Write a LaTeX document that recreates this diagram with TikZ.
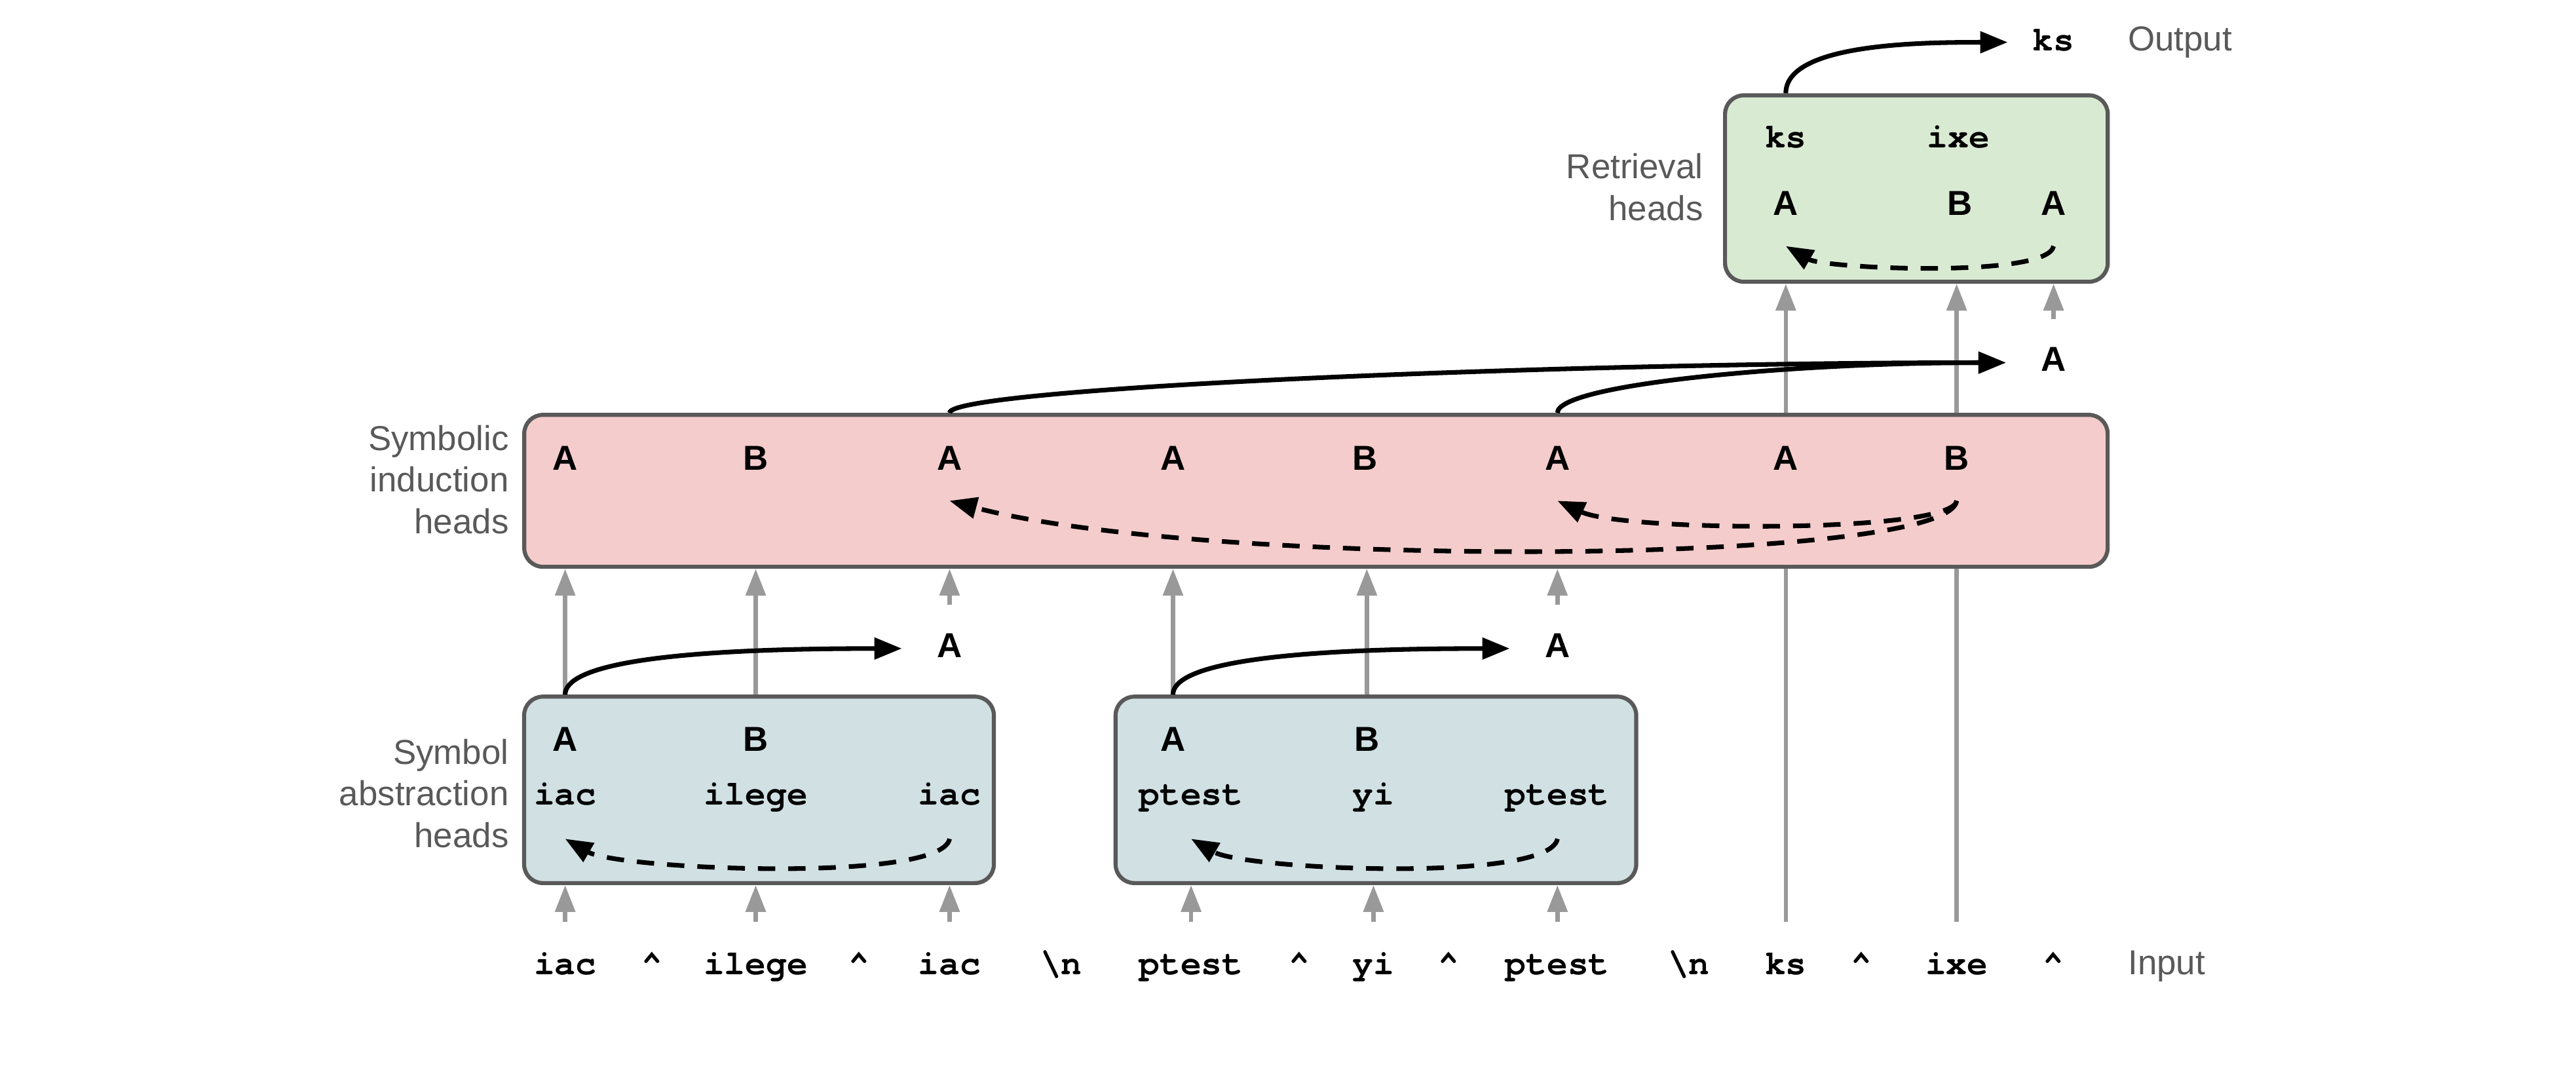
\documentclass[tikz,border=0pt]{standalone}
\usepackage{fontspec}
\setsansfont{Liberation Sans}
\setmonofont{TeX Gyre Cursor}
\usetikzlibrary{arrows.meta}

\definecolor{abscol}{HTML}{D0E0E3}
\definecolor{indcol}{HTML}{F4CCCC}
\definecolor{retcol}{HTML}{D9EAD3}
\definecolor{edgegray}{HTML}{595959}
\definecolor{feedgray}{HTML}{999999}

\tikzset{
  tok/.style = {font=\ttfamily\bfseries\fontsize{12}{14}\selectfont, inner sep=0pt, anchor=base, text height=9pt, text depth=3pt},
  sym/.style = {tok, font=\sffamily\bfseries\fontsize{12}{14}\selectfont},
  lbl/.style = {font=\sffamily\fontsize{12}{14.35}\selectfont, text=edgegray, align=right, inner sep=0pt},
  head/.style = {draw=edgegray, line width=1.4pt, rounded corners=6.5pt, inner sep=0pt},
  feed/.style = {draw=feedgray, line width=1.5pt, -{Triangle[length=9.3pt,width=6.8pt]}},
  pass/.style = {line width=1.6pt, -{Triangle[length=9.5pt,width=7.3pt]}},
  back/.style = {pass, dash pattern=on 6pt off 4.5pt},
}

\begin{document}
\begin{tikzpicture}[x=0.02cm, y=-0.02cm]
    \useasboundingbox (0,0) rectangle (1568,659);

    % head blocks
    \node[head, fill=abscol, minimum width=5.72cm, minimum height=2.27cm] (sab1) at (462,480.75) {};
    \node[head, fill=abscol, minimum width=6.34cm, minimum height=2.27cm] (sab2) at (837.5,480.75) {};
    \node[head, fill=indcol, minimum width=19.28cm, minimum height=1.85cm] (sind) at (801,298.75) {};
    \node[head, fill=retcol, minimum width=4.66cm, minimum height=2.27cm] (sret) at (1166.5,114.75) {};

    \node[lbl, anchor=north east] (labs) at (310,449.6) {Symbol\\abstraction\\heads};
    \node[lbl, anchor=north east] (lind) at (310,258.6) {Symbolic\\induction\\heads};
    \node[lbl, anchor=north east] (lret) at (1037,93.2) {Retrieval\\heads};
    \node[lbl, anchor=base west] (lout) at (1295,31) {Output};
    \node[lbl, anchor=base west] (lin) at (1295,593) {Input};

    % input sequence
    \foreach \x/\t [count=\n] in {344/iac, 397/\textasciicircum, 460/ilege, 523/\textasciicircum, 578/iac, 646/\textbackslash n, 725/ptest, 791/\textasciicircum, 836/yi, 882/\textasciicircum, 948/ptest, 1028/\textbackslash n, 1087/ks, 1133/\textasciicircum, 1191/ixe, 1250/\textasciicircum}
        \node[tok] (i\n) at (\x,593) {\t};

    % symbol abstraction
    \node[sym] (a1) at (344,457) {A};
    \node[sym] (b1) at (460,457) {B};
    \node[tok] (s1) at (344,490) {iac};
    \node[tok] (s2) at (460,490) {ilege};
    \node[tok] (s3) at (578,490) {iac};
    \node[sym] (a2) at (714,457) {A};
    \node[sym] (b2) at (832,457) {B};
    \node[tok] (s4) at (725,490) {ptest};
    \node[tok] (s5) at (836,490) {yi};
    \node[tok] (s6) at (948,490) {ptest};
    \node[sym] (o1) at (578,400) {A};
    \node[sym] (o2) at (948,400) {A};

    % symbolic induction
    \foreach \x/\t [count=\n] in {344/A, 460/B, 578/A, 714/A, 831/B, 948/A, 1087/A, 1191/B}
        \node[sym] (p\n) at (\x,286) {\t};
    \node[sym] (ia) at (1250,226) {A};

    % retrieval
    \node[tok] (r1) at (1087,90) {ks};
    \node[tok] (r2) at (1192,90) {ixe};
    \node[sym] (q1) at (1087,131) {A};
    \node[sym] (q2) at (1193,131) {B};
    \node[sym] (q3) at (1250,131) {A};
    \node[tok] (ok) at (1250,31) {ks};

    % residual stream
    \draw[feed, shorten <=9pt] (i1) -- (i1 |- sab1.south);
    \draw[feed, shorten <=9pt] (i3) -- (i3 |- sab1.south);
    \draw[feed, shorten <=9pt] (i5) -- (i5 |- sab1.south);
    \draw[feed, shorten <=9pt] (i7) -- (i7 |- sab2.south);
    \draw[feed, shorten <=9pt] (i9) -- (i9 |- sab2.south);
    \draw[feed, shorten <=9pt] (i11) -- (i11 |- sab2.south);
    \draw[feed] (a1 |- sab1.north) -- (a1 |- sind.south);
    \draw[feed] (b1 |- sab1.north) -- (b1 |- sind.south);
    \draw[feed] (a2 |- sab2.north) -- (a2 |- sind.south);
    \draw[feed] (b2 |- sab2.north) -- (b2 |- sind.south);
    \draw[feed, shorten <=9pt] (o1) -- (o1 |- sind.south);
    \draw[feed, shorten <=9pt] (o2) -- (o2 |- sind.south);
    \draw[feed, -, shorten <=9pt] (i13) -- (i13 |- sind.south);
    \draw[feed, -, shorten <=9pt] (i15) -- (i15 |- sind.south);
    \draw[feed] (i13 |- sind.north) -- (i13 |- sret.south);
    \draw[feed] (i15 |- sind.north) -- (i15 |- sret.south);
    \draw[feed, shorten <=9pt] (ia) -- (ia |- sret.south);

    % attention
    \draw[back] ([yshift=-8.5pt]s3.south) to[out=-100, in=-30, out distance=0.55cm, in distance=0.75cm] ([yshift=-8.5pt]s1.south);
    \draw[back] ([yshift=-8.5pt]s6.south) to[out=-100, in=-30, out distance=0.55cm, in distance=0.75cm] ([yshift=-8.5pt]s4.south);
    \draw[back] ([yshift=-7.5pt]p8.south) to[out=-97, in=-25, out distance=0.4cm, in distance=0.9cm] ([yshift=-7.5pt]p6.south);
    \draw[back] ([yshift=-7.5pt]p8.south) to[out=-97, in=-15, out distance=0.8cm, in distance=3.2cm] ([yshift=-7.5pt]p3.south);
    \draw[back] ([yshift=-7.5pt]q3.south) to[out=-100, in=-30, out distance=0.4cm, in distance=0.55cm] ([yshift=-7.5pt]q1.south);

    \draw[pass, shorten >=12pt] (a1 |- sab1.north) to[out=90, in=180, out distance=0.5cm, in distance=2.2cm] (o1);
    \draw[pass, shorten >=12pt] (a2 |- sab2.north) to[out=90, in=180, out distance=0.5cm, in distance=2.2cm] (o2);
    \draw[pass, shorten >=12pt] (p3 |- sind.north) to[out=90, in=180, out distance=0.3cm, in distance=6cm] (ia);
    \draw[pass, shorten >=12pt] (p6 |- sind.north) to[out=90, in=180, out distance=0.35cm, in distance=3cm] (ia);
    \draw[pass, shorten >=8.5pt] (q1 |- sret.north) to[out=90, in=180, out distance=0.6cm, in distance=1.4cm] (ok);
\end{tikzpicture}
\end{document}
